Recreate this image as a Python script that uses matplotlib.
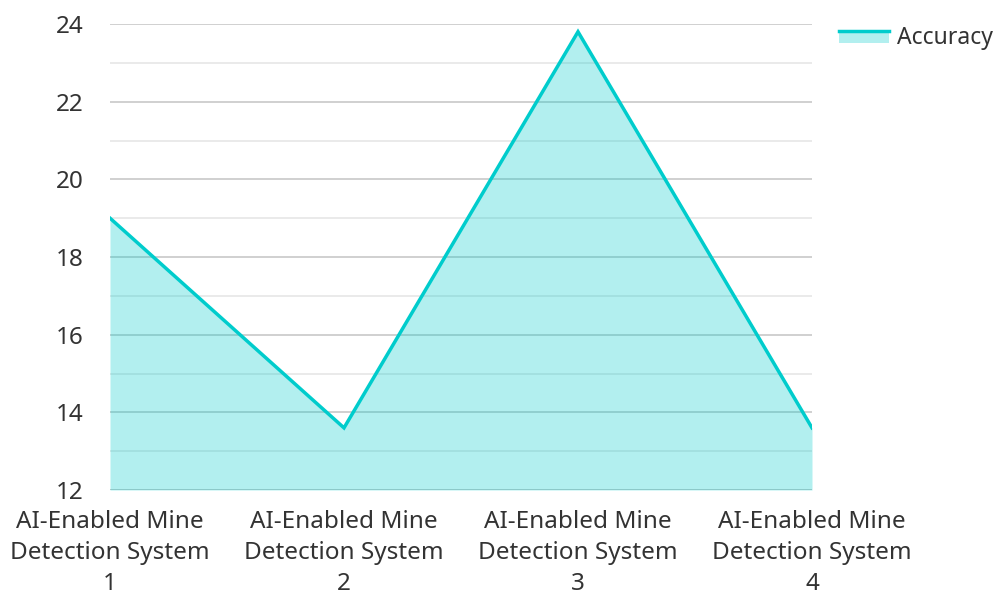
import matplotlib
matplotlib.use("Agg")
import matplotlib.pyplot as plt
from matplotlib.legend_handler import HandlerBase
from matplotlib.patches import Rectangle
from matplotlib.lines import Line2D

plt.rcParams['font.family'] = ['Noto Sans', 'DejaVu Sans']

systems = ["AI-Enabled Mine\nDetection System\n1",
           "AI-Enabled Mine\nDetection System\n2",
           "AI-Enabled Mine\nDetection System\n3",
           "AI-Enabled Mine\nDetection System\n4"]
accuracy = [19.0, 13.6, 23.8, 13.6]
y_ticks = [12, 14, 16, 18, 20, 22, 24]

line_color = "#00cccc"
text_color = "#333333"
font_size = 17.5


class AreaHandle(HandlerBase):
    # thin line on top of a shaded band, like the area series itself
    def create_artists(self, legend, orig_handle, xdescent, ydescent,
                       width, height, fontsize, trans):
        band = Rectangle((-xdescent, -ydescent), width, height * 0.8,
                         facecolor=line_color, alpha=0.3, edgecolor="none",
                         transform=trans)
        top = Line2D([-xdescent, -xdescent + width],
                     [-ydescent + height * 0.8] * 2,
                     color=line_color, lw=2.5, transform=trans)
        return [band, top]


fig = plt.figure(figsize=(10.02, 5.95), dpi=100)
ax = fig.add_axes([110 / 1002, 1 - 490 / 595, 702 / 1002, 466 / 595])

x = list(range(len(systems)))
ax.fill_between(x, accuracy, 12, color=line_color, alpha=0.3, lw=0, zorder=2)
ax.plot(x, accuracy, color=line_color, lw=2.5, zorder=3, solid_joinstyle="miter")

ax.set_xlim(0, len(systems) - 1)
ax.set_ylim(12, 24)
ax.set_yticks(y_ticks)
ax.set_yticks(range(13, 24, 2), minor=True)
ax.set_xticks(x)
ax.set_xticklabels(systems, linespacing=1.38)

ax.grid(axis="y", which="major", color="#c8c8c8", lw=1.2, zorder=1)
ax.grid(axis="y", which="minor", color="#e6e6e6", lw=1.2, zorder=1)
ax.set_axisbelow(True)
for s in ax.spines.values():
    s.set_visible(False)
ax.axhline(12, color="#c8c8c8", lw=1.2, zorder=1)

ax.tick_params(axis="both", which="both", length=0, labelsize=font_size,
               labelcolor=text_color)
ax.tick_params(axis="y", pad=19)
ax.tick_params(axis="x", pad=14.5)

handle = Rectangle((0, 0), 1, 1)
fig.legend([handle], ["Accuracy"], handler_map={Rectangle: AreaHandle()},
           loc="upper left", bbox_to_anchor=(818 / 1002, 1 - 5 / 595),
           frameon=False, fontsize=16.5, labelcolor=text_color,
           handlelength=2.2, handleheight=0.6, handletextpad=0.35)

fig.savefig("out.png", dpi=100)
